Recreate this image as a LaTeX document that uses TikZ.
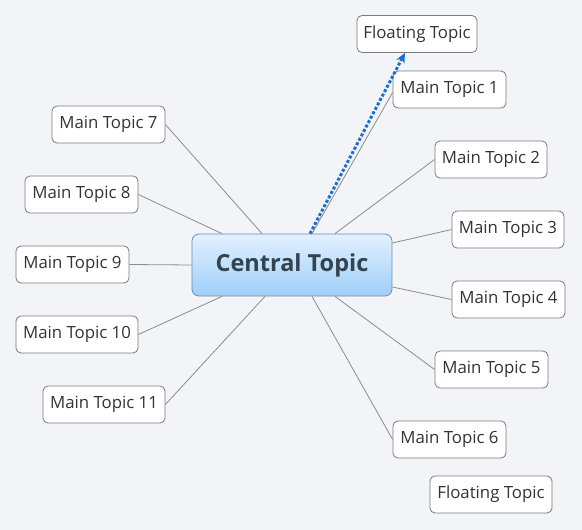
\documentclass[tikz,border=0pt]{standalone}
\usepackage{fontspec}
\setmainfont{Open Sans}
\usetikzlibrary{calc,arrows.meta}
\definecolor{bg}{HTML}{F2F4F8}
\definecolor{boxborder}{HTML}{7A7A7A}
\definecolor{linegray}{HTML}{8C8C8C}
\definecolor{txt}{HTML}{333333}
\definecolor{ctxt}{HTML}{34434E}
\definecolor{ctop}{HTML}{E2F1FF}
\definecolor{cbot}{HTML}{9ECEF8}
\definecolor{cborder}{HTML}{6E8CA8}
\definecolor{relblue}{HTML}{1C6FCF}
\tikzset{
  topicbox/.style={draw=boxborder, fill=white, rounded corners=5pt, line width=0.8pt,
    minimum height=37pt, inner sep=0pt, text=txt, font=\fontsize{16.8}{19}\selectfont},
  centralbox/.style={draw=cborder, top color=ctop, bottom color=cbot, rounded corners=7pt,
    line width=0.8pt, minimum width=200pt, minimum height=62pt, inner sep=0pt,
    text=ctxt, font=\fontsize{23.5}{27}\selectfont\bfseries},
  branch/.style={draw=linegray, line width=0.8pt},
  relation/.style={draw=relblue, line width=3pt, dotted, -{Stealth[length=10pt,width=9pt]}}
}
\begin{document}
\begin{tikzpicture}[x=1pt,y=-1pt]
\useasboundingbox (0,0) rectangle (582,530);
\fill[bg] (0,0) rectangle (582,530);

\node[centralbox] (c) at (292,265) {Central Topic};

\node[topicbox, minimum width=120pt] (f1) at (417,34) {Floating Topic};
\node[topicbox, minimum width=113pt] (m1) at (449.5,89.5) {Main Topic 1};
\node[topicbox, minimum width=112pt] (m2) at (491,159.5) {Main Topic 2};
\node[topicbox, minimum width=112pt] (m3) at (508,229.5) {Main Topic 3};
\node[topicbox, minimum width=113pt] (m4) at (508.5,299.5) {Main Topic 4};
\node[topicbox, minimum width=113pt] (m5) at (491.5,369.5) {Main Topic 5};
\node[topicbox, minimum width=113pt] (m6) at (449.5,439.5) {Main Topic 6};
\node[topicbox, minimum width=122pt] (f2) at (491,494.5) {Floating Topic};
\node[topicbox, minimum width=113pt] (m7) at (108.5,124.5) {Main Topic 7};
\node[topicbox, minimum width=113pt] (m8) at (81.5,194.5) {Main Topic 8};
\node[topicbox, minimum width=113pt] (m9) at (72.5,264.5) {Main Topic 9};
\node[topicbox, minimum width=122pt] (m10) at (77,334.5) {Main Topic 10};
\node[topicbox, minimum width=122pt] (m11) at (104,404.5) {Main Topic 11};

\draw[branch] ($(c.north)+(20,0)$) -- ($(m1.west)+(0,3)$);
\draw[branch] ($(c.north)+(43,0)$) -- (m2.west);
\draw[branch] ($(c.east)+(0,-22)$) -- (m3.west);
\draw[branch] ($(c.east)+(0,22)$) -- (m4.west);
\draw[branch] ($(c.south)+(43,0)$) -- (m5.west);
\draw[branch] ($(c.south)+(20,0)$) -- (m6.west);
\draw[branch] ($(c.north)+(-30,0)$) -- (m7.east);
\draw[branch] ($(c.north)+(-70,0)$) -- (m8.east);
\draw[branch] (c.west) -- (m9.east);
\draw[branch] ($(c.south)+(-70,0)$) -- (m10.east);
\draw[branch] ($(c.south)+(-27,0)$) -- (m11.east);

\draw[relation] ($(c.north)+(18,0)$) -- ($(f1.south)+(-12,0)$);
\end{tikzpicture}
\end{document}
